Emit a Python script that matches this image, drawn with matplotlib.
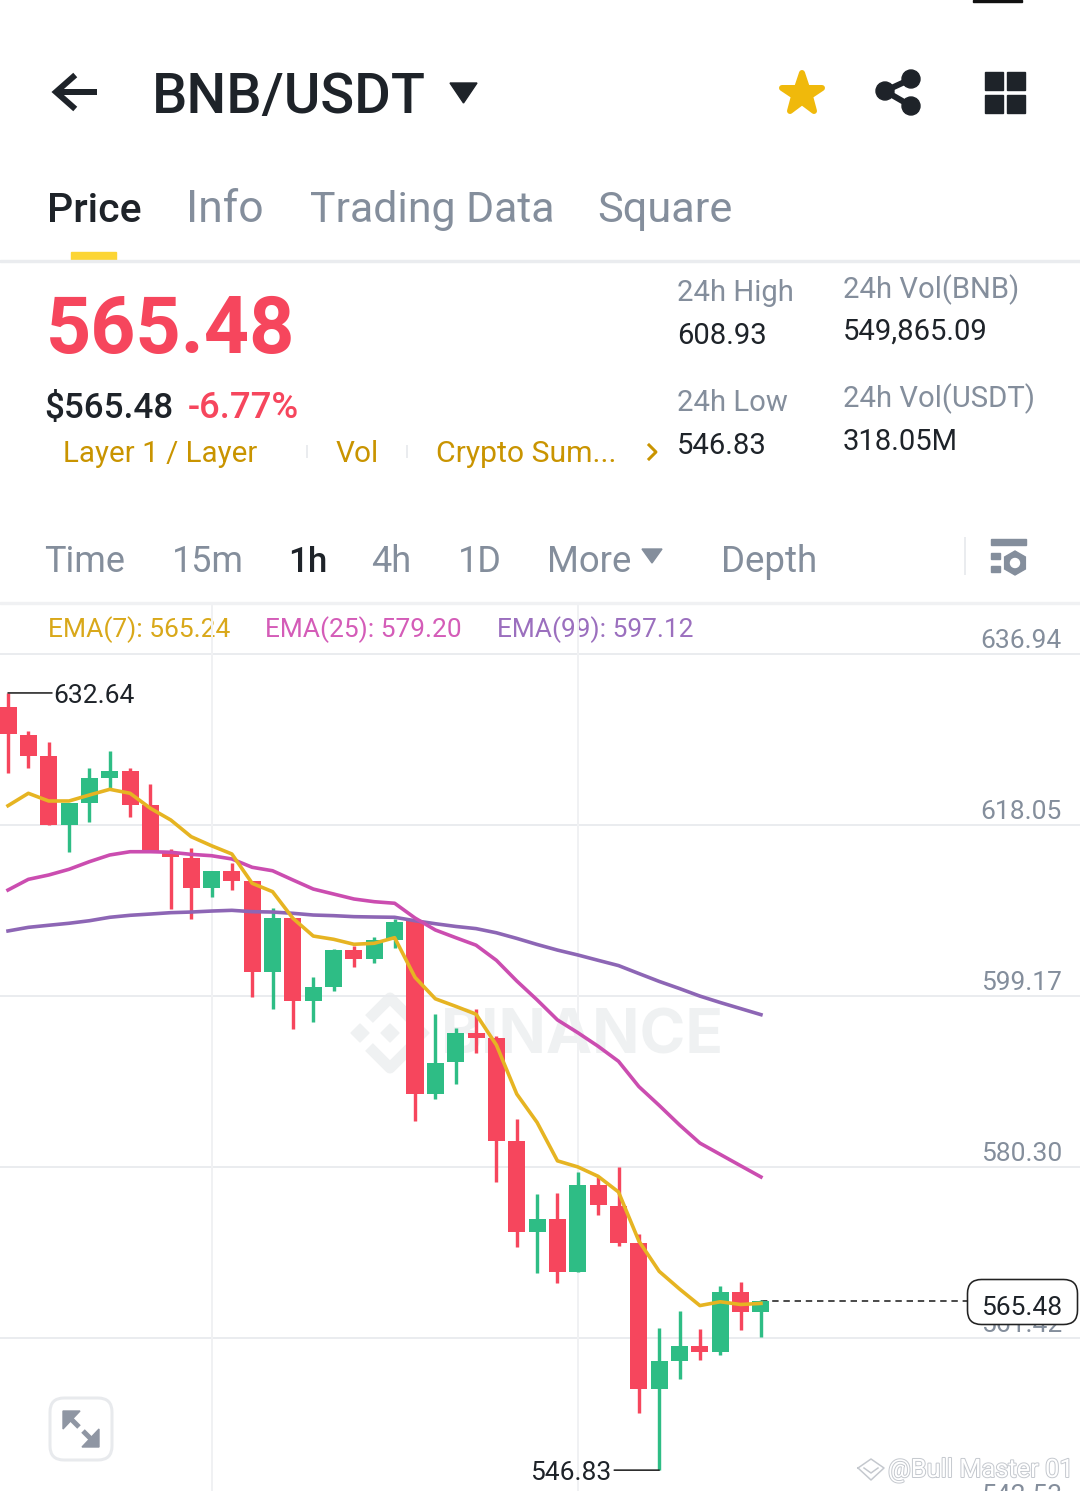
import matplotlib
matplotlib.use("Agg")
import matplotlib.pyplot as plt
import matplotlib.patheffects as pe
from matplotlib.markers import MarkerStyle
from matplotlib.patches import FancyBboxPatch, Polygon, Rectangle, Circle, RegularPolygon

plt.rcParams["font.family"] = ["Roboto", "DejaVu Sans"]

# hourly candles
opens = [631.06, 627.96, 625.64, 618.09, 620.46, 623.28, 623.99, 620.27, 615.11, 614.45,
         611.14, 612.98, 611.84, 601.83, 607.76, 598.63, 600.14, 604.23, 603.30, 605.40,
         607.41, 588.36, 591.85, 595.05, 594.51, 583.15, 573.16, 574.61, 568.66, 578.36,
         576.03, 571.91, 555.84, 558.84, 560.59, 559.92, 566.50, 564.33]
closes = [628.07, 625.68, 618.09, 620.46, 623.28, 623.99, 620.27, 615.11, 614.49, 611.14,
          612.98, 611.84, 601.83, 607.76, 598.63, 600.14, 604.26, 603.30, 605.36, 607.38,
          588.36, 591.80, 595.05, 594.51, 583.15, 573.16, 574.61, 568.66, 578.36, 576.15,
          571.91, 555.84, 558.84, 560.59, 559.92, 566.50, 564.33, 565.48]
highs = [632.64, 628.47, 627.19, 620.46, 624.39, 626.23, 624.39, 622.59, 615.41, 615.55,
         612.98, 613.90, 611.84, 608.93, 607.76, 601.24, 604.34, 604.70, 605.66, 607.65,
         607.65, 597.21, 595.65, 597.71, 594.72, 585.55, 577.32, 577.48, 579.75, 579.20,
         580.35, 572.87, 562.55, 564.41, 562.46, 567.12, 567.63, 565.58]
lows = [623.83, 624.32, 618.05, 615.11, 618.42, 621.92, 618.98, 615.11, 608.75, 607.71,
        610.14, 610.88, 599.07, 597.78, 595.50, 596.34, 599.77, 602.41, 602.79, 604.51,
        585.35, 587.81, 589.46, 592.92, 578.69, 571.44, 568.57, 567.46, 568.66, 575.00,
        571.58, 553.18, 546.83, 556.84, 559.00, 559.51, 562.25, 561.51]

ema7 = [620.19, 621.56, 620.71, 620.71, 621.37, 622.00, 621.56, 619.90, 618.61, 616.77,
        615.77, 614.86, 611.62, 610.70, 607.76, 605.80, 605.44, 604.89, 605.00, 605.62,
        601.24, 598.87, 598.04, 597.17, 593.77, 588.36, 585.22, 580.98, 580.31, 579.27,
        577.54, 572.13, 568.78, 566.83, 565.00, 565.42, 565.12, 565.24]
ema25 = [610.88, 612.06, 612.54, 613.17, 614.01, 614.75, 615.11, 615.11, 615.05, 614.82,
         614.67, 614.31, 613.39, 613.01, 611.99, 610.99, 610.44, 609.89, 609.59, 609.42,
         607.79, 606.47, 605.62, 604.79, 603.12, 600.84, 598.75, 596.54, 595.13, 593.63,
         591.97, 589.18, 587.10, 584.94, 582.94, 581.69, 580.44, 579.20]
ema99 = [606.36, 606.76, 606.99, 607.21, 607.49, 607.87, 608.09, 608.23, 608.38, 608.45,
         608.56, 608.64, 608.49, 608.45, 608.31, 608.12, 608.05, 607.94, 607.90, 607.87,
         607.49, 607.16, 606.86, 606.62, 606.16, 605.54, 604.87, 604.25, 603.71, 603.12,
         602.54, 601.66, 600.79, 600.00, 599.17, 598.46, 597.79, 597.12]

price_ticks = [636.94, 618.05, 599.17, 580.30, 561.42, 542.53]
time_grid = [10, 28]
last_price = 565.48
high_idx, low_idx = 0, 32

RED = "#F6465D"
GREEN = "#2EBD85"
DARK = "#1E2329"
GREY = "#848E9C"
GOLD = "#C99400"
LINE = "#EAECEF"
W, H = 1080, 1491
PX = 72 / 100  # points per pixel at dpi 100


def overlay(z):
    a = fig.add_axes([0, 0, 1, 1], zorder=z)
    a.set_xlim(0, W)
    a.set_ylim(H, 0)
    a.axis("off")
    a.patch.set_alpha(0)
    return a


def label(a, x, y, s, size, color=DARK, weight="normal", ha="left", **kw):
    return a.text(x, y, s, fontsize=size * PX, color=color, fontweight=weight,
                  ha=ha, va="baseline", **kw)


fig = plt.figure(figsize=(W / 100, H / 100), dpi=100, facecolor="white")
ui = overlay(0)
top = overlay(3)

# header
ui.add_patch(Rectangle((973, 0), 49, 1.5, color="#111111"))
ui.plot([57, 97], [92, 92], color=DARK, lw=6 * PX, solid_capstyle="butt")
ui.plot([73, 56, 73], [77, 92, 107], color=DARK, lw=6 * PX, solid_joinstyle="miter")
label(ui, 152, 113, "BNB/USDT", 56, weight="medium")
ui.add_patch(Polygon([[450, 83], [477, 83], [463.5, 103]], color=DARK))
ui.plot([802], [94], marker=MarkerStyle("*", joinstyle="round"), ms=42 * PX,
        color="#F0B90B", mec="#F0B90B", mew=6 * PX)
ui.plot([911, 885, 911], [79, 91, 106], color=DARK, lw=6 * PX)
for cx, cy in [(911, 79), (885, 91), (911, 106)]:
    ui.add_patch(Circle((cx, cy), 9, color=DARK))
for rx, ry in [(985, 72), (1007, 72), (985, 94.5), (1007, 94.5)]:
    ui.add_patch(Rectangle((rx, ry), 18, 18, color=DARK))

# tabs
label(ui, 47, 222, "Price", 41, weight="medium")
label(ui, 186, 222, "Info", 44.5, GREY)
label(ui, 310, 222, "Trading Data", 42.7, GREY)
label(ui, 597.5, 222, "Square", 43.3, GREY)
ui.add_patch(Rectangle((71, 252), 45, 8, color="#FCD535"))
ui.add_patch(Rectangle((0, 260), W, 2, color=LINE))

# price block
label(ui, 46, 353, "565.48", 79, RED, "bold")
label(ui, 44, 418, "$565.48", 35, weight="medium")
label(ui, 188, 418, "-6.77%", 36.5, RED, "medium")
label(ui, 63, 462, "Layer 1 / Layer", 29.5, GOLD)
label(ui, 336, 462, "Vol", 29.7, GOLD)
label(ui, 436, 462, "Crypto Sum...", 30.1, GOLD)
ui.plot([649, 656, 649], [445, 452, 459], color=GOLD, lw=3 * PX)
for sx in [307, 407]:
    ui.plot([sx, sx], [446, 457], color=LINE, lw=2 * PX)
label(ui, 677, 301, "24h High", 29.3, GREY)
label(ui, 677, 344, "608.93", 29.3)
label(ui, 677, 411, "24h Low", 29.3, GREY)
label(ui, 677, 454, "546.83", 29.3)
label(ui, 843, 298, "24h Vol(BNB)", 29.3, GREY)
label(ui, 843, 340, "549,865.09", 29.3)
label(ui, 843, 407, "24h Vol(USDT)", 29.3, GREY)
label(ui, 843, 450, "318.05M", 29.3)

# interval row
label(ui, 44.5, 572, "Time", 36, GREY)
label(ui, 171.5, 572, "15m", 36, GREY)
label(ui, 288.5, 572, "1h", 35, DARK, "medium")
label(ui, 371.5, 572, "4h", 36, GREY)
label(ui, 457.5, 572, "1D", 36, GREY)
label(ui, 547, 572, "More", 36.5, GREY)
ui.add_patch(Polygon([[642, 549], [662, 549], [652, 563]], color=GREY))
label(ui, 721, 572, "Depth", 36.8, GREY)
ui.plot([965, 965], [538, 574], color=LINE, lw=2 * PX)
ui.add_patch(Rectangle((991, 539), 35, 6, color=GREY))
ui.add_patch(Rectangle((991, 553), 9, 6, color=GREY))
ui.add_patch(Rectangle((991, 566), 9, 6, color=GREY))
ui.add_patch(RegularPolygon((1015, 563), 6, radius=12, color=GREY))
ui.add_patch(Circle((1015, 563), 4.5, color="white"))
ui.add_patch(Rectangle((0, 601.5), W, 2, color="#F0F1F3"))

# watermark
WM = "#EFF1F2"
ui.plot([369, 390, 411], [1019, 998, 1019], color=WM, lw=11 * PX, solid_capstyle="butt")
ui.plot([369, 390, 411], [1047, 1068, 1047], color=WM, lw=11 * PX, solid_capstyle="butt")
for dx in [360, 390, 420]:
    ui.add_patch(RegularPolygon((dx, 1033), 4, radius=9, color=WM))
label(ui, 441, 1053, "BINANCE", 62, WM, "bold", family="Inter")

# chart: the pixel rows of the price grid fix the y scale
chart_top, px_per_unit = 603, 171 / 18.88
ax = fig.add_axes([0, 0, 1, 1 - chart_top / H], zorder=1)
ax.patch.set_alpha(0)
ax.set_xlim(-8 / 20.35, (W - 8) / 20.35)
ax.set_ylim(636.94 - (H - 654) / px_per_unit, 636.94 + (654 - chart_top) / px_per_unit)
ax.axis("off")

for p in price_ticks:
    ax.axhline(p, color=LINE, lw=2 * PX, zorder=1)
    ax.annotate(f"{p:.2f}", (1, p), xycoords=("axes fraction", "data"),
                xytext=(-18, 6), textcoords="offset pixels", ha="right", va="baseline",
                fontsize=26.4 * PX, color=GREY, zorder=2, annotation_clip=False)
for t in time_grid:
    ax.axvline(t, color="#F0F1F3", lw=2 * PX, zorder=1)

xs = list(range(len(opens)))
colors = [GREEN if c >= o else RED for o, c in zip(opens, closes)]
ax.vlines(xs, lows, highs, colors=colors, lw=3.4 * PX, zorder=3)
ax.bar(xs, [abs(c - o) for o, c in zip(opens, closes)],
       bottom=[min(o, c) for o, c in zip(opens, closes)],
       width=0.84, color=colors, zorder=3)

ax.plot(xs, ema99, color="#8D66B5", lw=3.6 * PX, zorder=4)
ax.plot(xs, ema25, color="#CB4DB0", lw=3.6 * PX, zorder=4)
ax.plot(xs, ema7, color="#E6B422", lw=3.6 * PX, zorder=5)

ax.plot([xs[-1], (967 - 8) / 20.35], [last_price, last_price], color="#222222",
        lw=1.6 * PX, dashes=(4, 3), zorder=2)

# high and low leaders, text set apart from the thin rule
ax.annotate("", (xs[high_idx], highs[high_idx]), xytext=(44, 0), textcoords="offset pixels",
            arrowprops=dict(arrowstyle="-", color="#222222", lw=1.6 * PX, shrinkA=0, shrinkB=0))
ax.annotate(f"{highs[high_idx]:.2f}", (xs[high_idx], highs[high_idx]), xytext=(45, -3),
            textcoords="offset pixels", ha="left", va="center", fontsize=26.4 * PX, color=DARK)
ax.annotate("", (xs[low_idx], lows[low_idx]), xytext=(-45, 0), textcoords="offset pixels",
            arrowprops=dict(arrowstyle="-", color="#222222", lw=1.6 * PX, shrinkA=0, shrinkB=0))
ax.annotate(f"{lows[low_idx]:.2f}", (xs[low_idx], lows[low_idx]), xytext=(-48, -3),
            textcoords="offset pixels", ha="right", va="center", fontsize=26.4 * PX, color=DARK)

# EMA legend
label(ui, 48, 637, f"EMA(7): {ema7[-1]:.2f}", 26.4, "#D9A81A")
label(ui, 265, 637, f"EMA(25): {ema25[-1]:.2f}", 26.2, "#D45CB8")
label(ui, 497, 637, f"EMA(99): {ema99[-1]:.2f}", 26.2, "#9B6FBE")

# last price tag
top.add_patch(FancyBboxPatch((981, 1279), 83, 45, boxstyle="round,pad=0,rounding_size=14",
                             mutation_aspect=1, fc="white", ec="none"))
top.add_patch(FancyBboxPatch((967.5, 1279.5), 110, 45, boxstyle="round,pad=0,rounding_size=14",
                             fc="white", ec="#222222", lw=1.6 * PX))
label(top, 1062, 1315, f"{last_price:.2f}", 26.4, DARK, ha="right")

# expand button
ICON = "#8F96A3"
top.add_patch(FancyBboxPatch((50, 1398), 62, 62, boxstyle="round,pad=0,rounding_size=14",
                             fc="white", ec="#E8EAED", lw=3 * PX))
top.add_patch(Polygon([[63, 1411], [80, 1411], [63, 1429]], color=ICON))
top.add_patch(Polygon([[99, 1447], [82, 1447], [99, 1429]], color=ICON))
top.plot([69, 79], [1417, 1427], color=ICON, lw=5 * PX, solid_capstyle="butt")
top.plot([83, 93], [1431, 1441], color=ICON, lw=5 * PX, solid_capstyle="butt")

# repost mark
mark = label(top, 888, 1477, "@Bull Master 01", 25.4, "white")
mark.set_path_effects([pe.withStroke(linewidth=1.4, foreground="#C4C8CE")])
top.plot([858, 871, 884, 871, 858], [1468, 1459, 1468, 1480, 1468], color="#C4C8CE", lw=1.5 * PX)
top.plot([864, 871, 878], [1468, 1473, 1468], color="#C4C8CE", lw=1.5 * PX)

fig.savefig("out.png", dpi=100)
